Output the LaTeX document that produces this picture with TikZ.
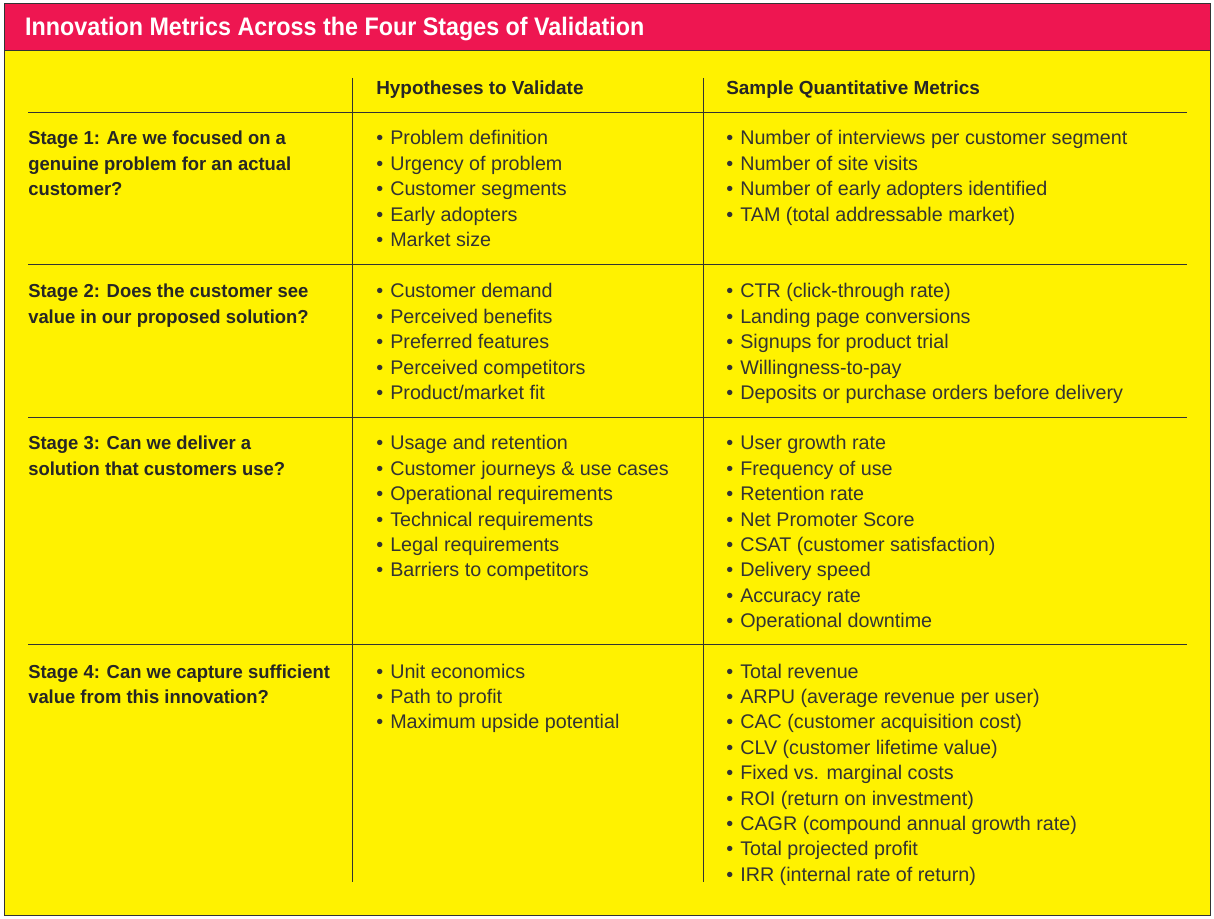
\documentclass[tikz,border=0pt]{standalone}
\usepackage{fontspec}
\setmainfont{Liberation Sans}
\begin{document}
\begin{tikzpicture}[x=0.75pt,y=-0.75pt,
  hd/.style={anchor=base west,inner sep=0pt,font=\fontsize{14.2}{16}\selectfont\bfseries,text=black!85},
  st/.style={anchor=base west,inner sep=0pt,font=\fontsize{14.1}{16}\selectfont\bfseries,text=black!85,xscale=0.98},
  it/.style={anchor=base west,inner sep=0pt,font=\fontsize{14.8}{16}\selectfont,text=black!80},
  rule/.style={draw=black!80,line width=0.7pt}]
\useasboundingbox (0,0) rectangle (1214,919);
\definecolor{hbrred}{HTML}{EE1651}
\definecolor{hbryel}{HTML}{FFF200}
\fill[hbryel] (4,50) rectangle (1210,915);
\fill[hbrred] (4,3) rectangle (1210,50);
\draw[black!80,line width=0.6pt] (4,3) rectangle (1210,915);
\draw[black!80,line width=0.6pt] (4,50) -- (1210,50);
\node[anchor=base west,inner sep=0pt,text=white,font=\fontsize{19}{22}\selectfont\bfseries,xscale=0.92] (title) at (25,35.5) {Innovation Metrics Across the Four Stages of Validation};
% grid
\draw[rule] (352,78) -- (352,882);
\draw[rule] (703,78) -- (703,882);
\foreach \yy in {112,264,417,644} \draw[rule] (28,\yy) -- (1187,\yy);
\node[hd] (h1) at (376,95) {Hypotheses to Validate};
\node[hd] (h2) at (726,95) {Sample Quantitative Metrics};
\newcommand{\stg}[2]{\foreach \t [count=\i from 0] in {#2} \node[st] at (28,#1+7+25.3*\i) {\t};}
\newcommand{\lst}[3]{\foreach \t [count=\i from 0] in {#3} {\node[it] at (#1,#2+7+25.4*\i) {\textbullet}; \node[it] at (#1+14,#2+7+25.4*\i) {\t};}}
\stg{138}{Stage 1: Are we focused on a,genuine problem for an actual,customer?}
\stg{291}{Stage 2: Does the customer see,value in our proposed solution?}
\stg{443}{Stage 3: Can we deliver a,solution that customers use?}
\stg{671}{Stage 4: Can we capture sufficient,value from this innovation?}
\lst{376}{138}{Problem definition,Urgency of problem,Customer segments,Early adopters,Market size}
\lst{726}{138}{Number of interviews per customer segment,Number of site visits,Number of early adopters identified,TAM (total addressable market)}
\lst{376}{291}{Customer demand,Perceived benefits,Preferred features,Perceived competitors,Product/market fit}
\lst{726}{291}{CTR (click-through rate),Landing page conversions,Signups for product trial,Willingness-to-pay,Deposits or purchase orders before delivery}
\lst{376}{443}{Usage and retention,Customer journeys \& use cases,Operational requirements,Technical requirements,Legal requirements,Barriers to competitors}
\lst{726}{443}{User growth rate,Frequency of use,Retention rate,Net Promoter Score,CSAT (customer satisfaction),Delivery speed,Accuracy rate,Operational downtime}
\lst{376}{671}{Unit economics,Path to profit,Maximum upside potential}
\lst{726}{671}{Total revenue,ARPU (average revenue per user),CAC (customer acquisition cost),CLV (customer lifetime value),Fixed vs. marginal costs,ROI (return on investment),CAGR (compound annual growth rate),Total projected profit,IRR (internal rate of return)}
\end{tikzpicture}
\end{document}
